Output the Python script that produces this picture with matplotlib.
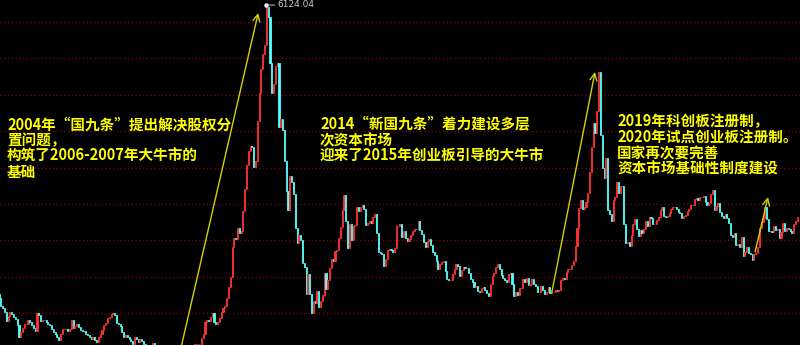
import matplotlib
matplotlib.use("Agg")
import matplotlib.pyplot as plt
import numpy as np

plt.rcParams['font.family'] = ['Noto Sans CJK SC', 'DejaVu Sans']

# Shanghai Composite, semi-monthly closes, Aug 2001 .. Jan 2020
close_2001 = [1950, 1834, 1800, 1747, 1620, 1690, 1750, 1720, 1680, 1646]
close_2002 = [1560, 1390, 1460, 1525, 1580, 1580, 1630, 1600, 1570, 1515, 1480, 1732,
              1700, 1620, 1640, 1630, 1600, 1581, 1560, 1510, 1470, 1440, 1400, 1357]
close_2003 = [1430, 1500, 1510, 1500, 1480, 1510, 1640, 1520, 1550, 1576, 1530, 1487,
              1480, 1476, 1440, 1421, 1400, 1367, 1390, 1348, 1320, 1397, 1430, 1497]
close_2004 = [1560, 1590, 1660, 1675, 1720, 1742, 1700, 1595, 1580, 1555, 1460, 1400,
              1420, 1386, 1360, 1342, 1300, 1396, 1360, 1320, 1370, 1341, 1300, 1267]
close_2005 = [1240, 1191, 1250, 1306, 1230, 1181, 1190, 1159, 1100, 1060, 1050, 1080,
              1020, 1083, 1160, 1162, 1180, 1155, 1140, 1092, 1090, 1099, 1130, 1161]
close_2006 = [1210, 1258, 1290, 1299, 1290, 1298, 1380, 1440, 1600, 1641, 1620, 1672,
              1730, 1612, 1580, 1601, 1660, 1752, 1800, 1837, 1950, 2099, 2250, 2675]
close_2007 = [2800, 2786, 2950, 2881, 2900, 3183, 3500, 3841, 4050, 4109, 4100, 3820,
              3900, 4471, 4870, 5218, 5420, 5552, 6092, 5954, 5300, 4871, 5000, 5261]
close_2008 = [5300, 4383, 4500, 4348, 3900, 3472, 3200, 3693, 3600, 3433, 2950, 2736,
              2850, 2775, 2450, 2397, 2000, 2293, 2000, 1728, 1900, 1871, 2050, 1820]
close_2009 = [1900, 1990, 2300, 2082, 2200, 2373, 2500, 2477, 2620, 2632, 2800, 2959,
              3200, 3412, 3050, 2667, 3000, 2779, 2980, 2995, 3250, 3195, 3250, 3277]
close_2010 = [3220, 2989, 3020, 3051, 3020, 3109, 3150, 2870, 2600, 2592, 2570, 2398,
              2500, 2637, 2640, 2638, 2600, 2655, 2970, 2978, 3000, 2820, 2900, 2808]
close_2011 = [2760, 2790, 2850, 2905, 2930, 2928, 3050, 2911, 2860, 2743, 2680, 2762,
              2790, 2701, 2600, 2567, 2480, 2359, 2430, 2468, 2480, 2333, 2220, 2199]
close_2012 = [2200, 2292, 2360, 2428, 2400, 2262, 2350, 2396, 2370, 2373, 2300, 2225,
              2170, 2103, 2120, 2047, 2030, 2086, 2100, 2069, 2020, 1980, 2150, 2269]
close_2013 = [2300, 2385, 2430, 2365, 2270, 2237, 2200, 2178, 2290, 2301, 2150, 1979,
              2040, 1994, 2090, 2098, 2220, 2175, 2230, 2141, 2150, 2220, 2150, 2116]
close_2014 = [2030, 2033, 2120, 2056, 2000, 2033, 2100, 2026, 2030, 2039, 2060, 2048,
              2060, 2202, 2230, 2217, 2320, 2364, 2360, 2420, 2480, 2683, 2950, 3235]
close_2015 = [3350, 3210, 3240, 3310, 3450, 3748, 4100, 4441, 4300, 4612, 5166, 4277,
              3800, 3664, 3950, 3206, 3150, 3053, 3350, 3383, 3600, 3445, 3550, 3539]
close_2016 = [3000, 2738, 2750, 2688, 2850, 3004, 3070, 2938, 2830, 2917, 2880, 2930,
              3050, 2979, 3110, 3085, 3000, 3005, 3060, 3100, 3200, 3250, 3120, 3104]
close_2017 = [3120, 3159, 3210, 3242, 3240, 3223, 3180, 3155, 3090, 3117, 3130, 3192,
              3220, 3273, 3270, 3361, 3370, 3349, 3390, 3393, 3400, 3317, 3270, 3307]
close_2018 = [3430, 3481, 3200, 3259, 3300, 3169, 3120, 3082, 3150, 3095, 3020, 2847,
              2820, 2876, 2700, 2725, 2680, 2821, 2550, 2603, 2670, 2588, 2580, 2494]
close_2019 = [2570, 2585, 2680, 2941, 3030, 3091, 3250, 3078, 2900, 2899, 2890, 2979,
              2920, 2932, 2810, 2886, 3020, 2905, 2940, 2929, 2900, 2872, 3000, 3050]
close_2020 = [3100]
first_open = 2000

peak_value = 6124.04
peak_label = "6124.04"

grid_levels = [1732, 2251, 2769, 3288, 3807, 4325, 4844, 5363, 5882]

notes = [
    "2004年“国九条”提出解决股权分\n置问题，\n构筑了2006-2007年大牛市的\n基础",
    "2014“新国九条”着力建设多层\n次资本市场\n迎来了2015年创业板引导的大牛市",
    "2019年科创板注册制，\n2020年试点创业板注册制。\n国家再次要完善\n资本市场基础性制度建设",
]

closes = np.array(close_2001 + close_2002 + close_2003 + close_2004 + close_2005 +
                  close_2006 + close_2007 + close_2008 + close_2009 + close_2010 +
                  close_2011 + close_2012 + close_2013 + close_2014 + close_2015 +
                  close_2016 + close_2017 + close_2018 + close_2019 + close_2020, dtype=float)
opens = np.concatenate([[first_open], closes[:-1]])
idx = np.arange(len(closes))

UP = '#ff3232'
DOWN = '#54ffff'
cols = [UP if c >= o else DOWN for o, c in zip(opens, closes)]

fig = plt.figure(figsize=(8, 3.45), dpi=100, facecolor='black')
ax = fig.add_axes([0, 0, 1, 1])
ax.set_facecolor('black')
for s in ax.spines.values():
    s.set_visible(False)
ax.set_xticks([])
ax.set_yticks([])

ax.set_xlim(0.5, len(closes) + 0.5)
ax.set_ylim(1279, 6195)

for g in grid_levels:
    ax.axhline(g, color='#8a0000', lw=0.9, ls=(0, (1, 2)), zorder=0)

ax.bar(idx, closes - opens, bottom=opens, width=0.6, color=cols,
       edgecolor=cols, linewidth=0.6, zorder=2)

# peak wick + label
pk = int(np.argmax(closes))
ax.vlines(pk, closes[pk], peak_value, color=UP, lw=1.0, zorder=2)
ax.plot([pk], [peak_value], marker='o', ms=2.2, color='white', zorder=3)
ax.annotate(peak_label, xy=(pk, peak_value), xytext=(8, 0), textcoords='offset points',
            color='#c8c8c8', fontsize=6.5, va='center', ha='left', family='DejaVu Sans',
            arrowprops=dict(arrowstyle='-', color='#c8c8c8', lw=0.7,
                            shrinkA=0, shrinkB=0))

# yellow arrows (from trough to peak of each bull run)
arrow_kw = dict(arrowstyle='->,head_length=0.5,head_width=0.25', color='#d2d200', lw=1.0,
                shrinkA=0, shrinkB=0)
ax.annotate('', xy=(pk - 4.5, 6010), xytext=(101, 1270), arrowprops=arrow_kw, zorder=4)
i_14 = len(close_2001) + 24 * 12
ax.annotate('', xy=(i_14 + 32, 5169), xytext=(i_14 + 8, 2020), arrowprops=arrow_kw, zorder=4)
i_19 = len(close_2001) + 24 * 17
ax.annotate('', xy=(i_19 + 7.8, 3388), xytext=(i_19 + 0.6, 2604), arrowprops=arrow_kw, zorder=4)

txt_kw = dict(color='#ffff00', fontsize=10.5, fontweight='bold', va='top', ha='left',
              linespacing=1.0, transform=ax.transAxes, zorder=5)
ax.text(7 / 800, 1 - 116 / 345, notes[0], **txt_kw)
ax.text(320 / 800, 1 - 116 / 345, notes[1], **txt_kw)
ax.text(617 / 800, 1 - 113 / 345, notes[2], **txt_kw)

fig.savefig('out.png', dpi=100, facecolor='black')
